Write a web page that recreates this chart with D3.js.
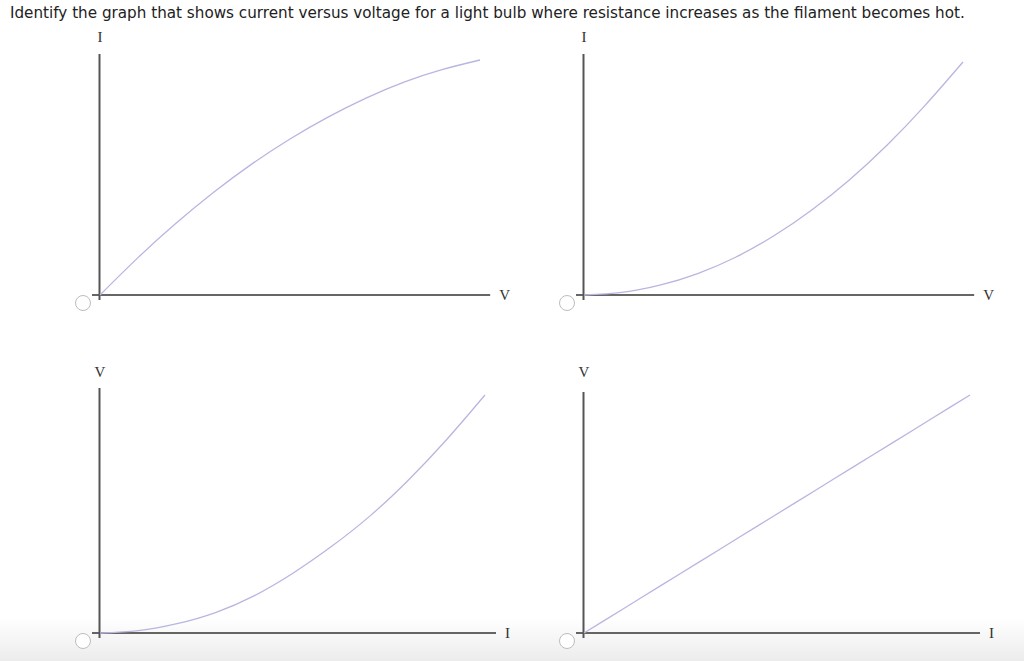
<!DOCTYPE html>
<html>
<head>
<meta charset="utf-8">
<script src="https://cdn.jsdelivr.net/npm/d3@7"></script>
<style>
  html, body { margin: 0; padding: 0; background: #fff; }
  svg { display: block; }
</style>
</head>
<body>
<div id="chart"></div>
<script>
// question text
const title = "Identify the graph that shows current versus voltage for a light bulb where resistance increases as the filament becomes hot.";

// values, on a 0..10 scale for each small graph
const steps = [0, 1, 2, 3, 4, 5, 6, 7, 8, 9, 10];
const concaveI = [0, 1.59, 3.05, 4.38, 5.58, 6.64, 7.57, 8.38, 9.06, 9.59, 10];
const convexI = [0, 0.11, 0.42, 0.92, 1.62, 2.53, 3.64, 4.94, 6.44, 8.14, 10];
const convexV = [0, 0.10, 0.39, 0.86, 1.56, 2.50, 3.62, 4.90, 6.41, 8.12, 10];
const linearV = [0, 1, 2, 3, 4, 5, 6, 7, 8, 9, 10];

// axis labels per graph
const yLabels = ["I", "I", "V", "V"];
const xLabels = ["V", "V", "I", "I"];
const series = [concaveI, convexI, convexV, linearV];

// where each small graph sits
const boxes = [
    { ox: 100, oy: 295, w: 380, h: 235, top: 54, right: 510, ylab: 42 },
    { ox: 584, oy: 295, w: 379, h: 233, top: 54, right: 994, ylab: 42 },
    { ox: 100, oy: 633, w: 385, h: 238, top: 388, right: 510, ylab: 377 },
    { ox: 584, oy: 633, w: 386, h: 238, top: 392, right: 994, ylab: 377 }
];

const W = 1024, H = 661;
const svg = d3.select("#chart").append("svg").attr("width", W).attr("height", H);

// faint grey fade at the bottom of the page
const grad = svg.append("defs").append("linearGradient")
    .attr("id", "fade").attr("x1", 0).attr("y1", 0).attr("x2", 0).attr("y2", 1);
grad.append("stop").attr("offset", "0%").attr("stop-color", "#ffffff");
grad.append("stop").attr("offset", "100%").attr("stop-color", "#ececec");
svg.append("rect").attr("x", 0).attr("y", 618).attr("width", W).attr("height", H - 618)
    .attr("fill", "url(#fade)");

// title: size it so it spans the same width as the original line
const t = svg.append("text")
    .attr("x", 10).attr("y", 18)
    .style("font-family", "'DejaVu Sans', Verdana, sans-serif")
    .style("font-size", "13px")
    .attr("fill", "#222")
    .text(title);
const tw = t.node().getComputedTextLength();
t.style("font-size", (13 * 955 / tw).toFixed(2) + "px");

const line = d3.line().curve(d3.curveNatural);

boxes.forEach((b, i) => {
    const g = svg.append("g");
    const x = d3.scaleLinear().domain([0, 10]).range([b.ox, b.ox + b.w]);
    const y = d3.scaleLinear().domain([0, 10]).range([b.oy, b.oy - b.h]);

    // radio button
    g.append("circle")
        .attr("cx", b.ox - 17).attr("cy", b.oy + 8).attr("r", 7.5)
        .attr("fill", "#fff").attr("stroke", "#bdbdbd").attr("stroke-width", 1);

    // x label, right aligned, then the axis stops short of it
    const xl = g.append("text")
        .attr("x", b.right).attr("y", b.oy + 5)
        .attr("text-anchor", "end")
        .style("font-family", "'Liberation Serif', 'Times New Roman', serif")
        .style("font-size", "15px")
        .attr("fill", "#333")
        .text(xLabels[i]);
    const xlw = xl.node().getComputedTextLength();

    g.append("line")
        .attr("x1", b.ox - 8).attr("x2", b.right - xlw - 9)
        .attr("y1", b.oy).attr("y2", b.oy)
        .attr("stroke", "#333").attr("stroke-width", 1.5);

    g.append("line")
        .attr("x1", b.ox - 0.5).attr("x2", b.ox - 0.5)
        .attr("y1", b.top).attr("y2", b.oy + 5)
        .attr("stroke", "#555").attr("stroke-width", 2);

    g.append("text")
        .attr("x", b.ox).attr("y", b.ylab)
        .attr("text-anchor", "middle")
        .style("font-family", "'Liberation Serif', 'Times New Roman', serif")
        .style("font-size", "15px")
        .attr("fill", "#333")
        .text(yLabels[i]);

    g.append("path")
        .attr("d", line(steps.map((s, k) => [x(s), y(series[i][k])])))
        .attr("fill", "none")
        .attr("stroke", "#b8b6e0")
        .attr("stroke-width", 1.3);
});
</script>
</body>
</html>
